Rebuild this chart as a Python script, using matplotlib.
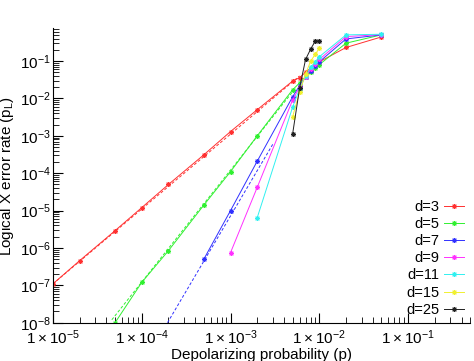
import matplotlib
matplotlib.use('Agg')
import matplotlib.pyplot as plt
from matplotlib.ticker import LogLocator, FuncFormatter, NullFormatter
import numpy as np

plt.rcParams['font.family'] = ['Liberation Sans', 'DejaVu Sans']
plt.rcParams['mathtext.default'] = 'regular'

# depolarizing probability p and logical error rate p_L per code distance
p3 = [1e-5, 2e-5, 5e-5, 1e-4, 2e-4, 5e-4, 1e-3, 2e-3, 5e-3, 6e-3, 7e-3, 8e-3, 9e-3, 1e-2, 2e-2, 5e-2]
pl3 = [1.1e-7, 4.6e-7, 2.9e-6, 1.2e-5, 5e-5, 3.1e-4, 1.3e-3, 5e-3, 2.9e-2, 3.6e-2, 5.0e-2, 6.5e-2, 8.0e-2, 9.5e-2, 0.23, 0.44]

p5 = [5e-5, 1e-4, 2e-4, 5e-4, 1e-3, 2e-3, 5e-3, 6e-3, 7e-3, 8e-3, 9e-3, 1e-2, 2e-2, 5e-2]
pl5 = [1e-8, 1.2e-7, 8.5e-7, 1.4e-5, 1.1e-4, 1e-3, 1.7e-2, 2.6e-2, 3.8e-2, 5e-2, 6.5e-2, 8e-2, 0.30, 0.50]

p7 = [5e-4, 1e-3, 2e-3, 5e-3, 6e-3, 7e-3, 8e-3, 9e-3, 1e-2, 2e-2, 5e-2]
pl7 = [5e-7, 1e-5, 2.1e-4, 1.1e-2, 2.2e-2, 3.8e-2, 5.5e-2, 7.5e-2, 9.5e-2, 0.39, 0.50]

p9 = [1e-3, 2e-3, 5e-3, 6e-3, 7e-3, 8e-3, 9e-3, 1e-2, 2e-2, 5e-2]
pl9 = [7.5e-7, 4.2e-5, 9e-3, 2e-2, 3.8e-2, 6e-2, 8.5e-2, 0.11, 0.45, 0.51]

p11 = [2e-3, 5e-3, 6e-3, 7e-3, 8e-3, 9e-3, 1e-2, 2e-2, 5e-2]
pl11 = [6.5e-6, 5.8e-3, 1.8e-2, 4e-2, 6.8e-2, 9.5e-2, 0.13, 0.50, 0.52]

p15 = [5e-3, 6e-3, 7e-3, 8e-3, 9e-3, 1e-2]
pl15 = [3.2e-3, 1.5e-2, 4.5e-2, 0.10, 0.15, 0.22]

p25 = [5e-3, 6e-3, 7e-3, 8e-3, 9e-3, 1e-2]
pl25 = [1.1e-3, 1.9e-2, 0.11, 0.21, 0.34, 0.35]

# dashed low-p extrapolations (end points)
fit3_p = [1e-5, 6e-3]
fit3_pl = [1.1e-7, 4e-2]
fit5_p = [4.6e-5, 5e-3]
fit5_pl = [1.2e-8, 1.5e-2]
fit7_p = [1.95e-4, 3e-3]
fit7_pl = [1e-8, 6e-4]

labels = ['d=3', 'd=5', 'd=7', 'd=9', 'd=11', 'd=15', 'd=25']
colors = ['#ff3030', '#30f030', '#3030ff', '#ff30ff', '#30f0f0', '#f0f030', '#202020']
series = [(p3, pl3), (p5, pl5), (p7, pl7), (p9, pl9), (p11, pl11), (p15, pl15), (p25, pl25)]
fits = [(fit3_p, fit3_pl, colors[0]), (fit5_p, fit5_pl, colors[1]), (fit7_p, fit7_pl, colors[2])]

fig = plt.figure(figsize=(4.74, 3.61), dpi=100)
ax = fig.add_axes([0.1118, 0.106, 0.88, 0.8156])

for x, y, c in fits:
    ax.plot(x, y, color=c, lw=0.7, ls=(0, (3, 2)))

for (x, y), lab, c in zip(series, labels, colors):
    ax.plot(x, y, color=c, lw=0.7, marker=(8, 2, 0), ms=3.6, mew=0.7, label=lab)

ax.set_xscale('log')
ax.set_yscale('log')
ax.set_xlim(1e-5, 0.5)
ax.set_ylim(1e-8, 0.75)

ax.spines['top'].set_visible(False)
ax.spines['right'].set_visible(False)

ax.xaxis.set_major_locator(LogLocator(base=10, numticks=10))
ax.xaxis.set_minor_locator(LogLocator(base=10, subs=np.arange(2, 10), numticks=20))
ax.yaxis.set_major_locator(LogLocator(base=10, numticks=12))
ax.yaxis.set_minor_locator(LogLocator(base=10, subs=np.arange(2, 10), numticks=20))
ax.xaxis.set_minor_formatter(NullFormatter())
ax.yaxis.set_minor_formatter(NullFormatter())
ax.xaxis.set_major_formatter(FuncFormatter(lambda v, pos: r'$1\times10^{%d}$' % round(np.log10(v))))
ax.yaxis.set_major_formatter(FuncFormatter(lambda v, pos: r'$10^{%d}$' % round(np.log10(v))))

ax.tick_params(which='both', direction='in', labelsize=11, top=False, right=False)
ax.tick_params(which='major', length=7)
ax.tick_params(which='minor', length=4)
ax.tick_params(axis='x', which='major', pad=4)
ax.tick_params(axis='y', which='major', pad=1.5)

ax.set_xlabel('Depolarizing probability (p)', fontsize=11, labelpad=1)
ax.set_ylabel('Logical X error rate (p$_L$)', fontsize=11, labelpad=3)

ax.legend(loc='lower right', frameon=False, markerfirst=False, fontsize=10.5,
          handlelength=1.4, labelspacing=0.22, borderaxespad=0.2, borderpad=0.2,
          handletextpad=0.3)

fig.savefig('out.png', dpi=100)
